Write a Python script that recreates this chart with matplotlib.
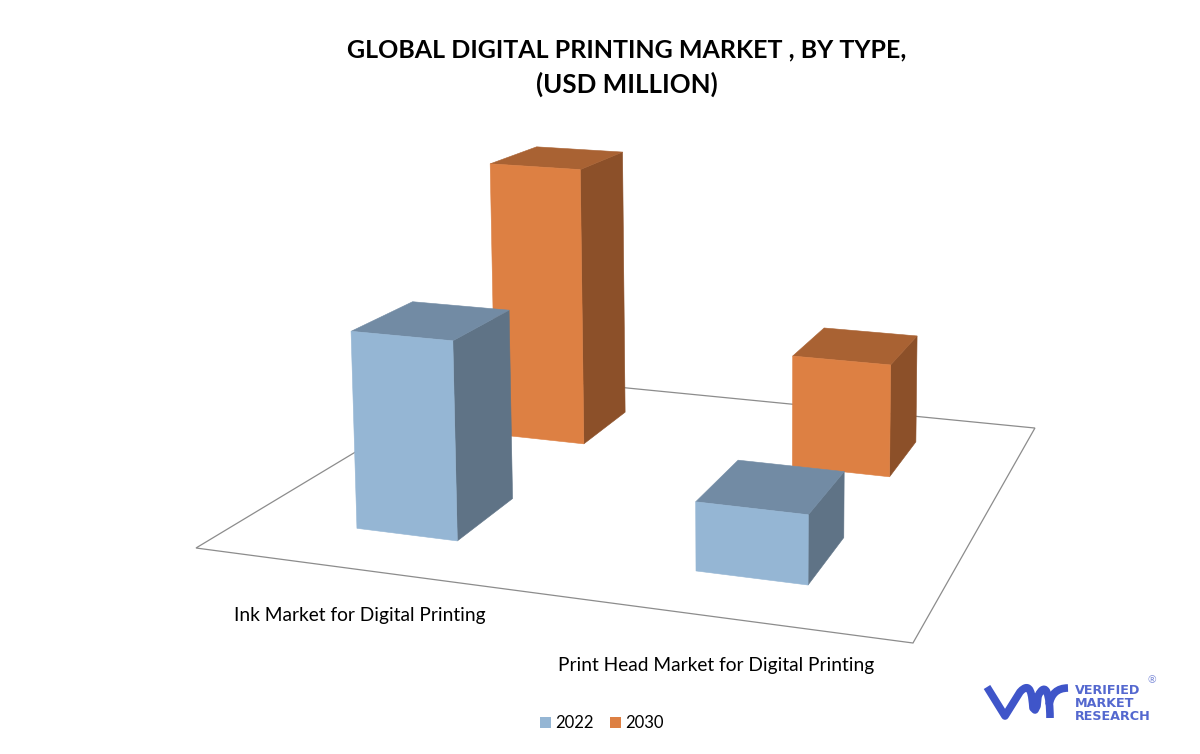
import matplotlib
matplotlib.use('Agg')
import matplotlib.pyplot as plt
import numpy as np
from matplotlib.patches import Polygon, PathPatch, Rectangle
from matplotlib.path import Path

plt.rcParams['font.family'] = ['Lato', 'DejaVu Sans']

# Values (no axis in the chart, so relative units)
categories = ['Ink Market for Digital Printing', 'Print Head Market for Digital Printing']
years = ['2022', '2030']
values_2022 = [2.08, 0.70]
values_2030 = [3.27, 1.29]

front_colors = {'2022': '#95B6D4', '2030': '#DD8043'}
top_colors = {'2022': '#728BA4', '2030': '#A96233'}
side_colors = {'2022': '#5F7386', '2030': '#8C5029'}

# Camera matrix: floor coordinates (u, v) in 0..1, height z -> image pixels
P = np.array([[618.0, 447.9, -5.43, 196.0],
              [25.3, -51.4, -100.0, 548.0],
              [-0.1084, 0.3277, -0.00714, 1.0]])


def project(u, v, z=0.0):
    x, y, w = P @ np.array([u, v, z, 1.0])
    return x / w, y / w


def draw_bar(ax, uc, vc, height, year, du=0.0775, dv=0.10):
    u0, u1 = uc - du, uc + du
    v0, v1 = vc - dv, vc + dv
    front = [project(u0, v0), project(u1, v0), project(u1, v0, height), project(u0, v0, height)]
    side = [project(u1, v0), project(u1, v1), project(u1, v1, height), project(u1, v0, height)]
    top = [project(u0, v0, height), project(u1, v0, height), project(u1, v1, height), project(u0, v1, height)]
    ax.add_patch(Polygon(side, closed=True, fc=side_colors[year], ec=side_colors[year], lw=0.4))
    ax.add_patch(Polygon(top, closed=True, fc=top_colors[year], ec=top_colors[year], lw=0.4))
    ax.add_patch(Polygon(front, closed=True, fc=front_colors[year], ec=front_colors[year], lw=0.4))


fig = plt.figure(figsize=(12, 7.54), dpi=100)
ax = fig.add_axes([0, 0, 1, 1])
ax.set_xlim(0, 1200)
ax.set_ylim(754, 0)
ax.axis('off')

# Floor of the 3D chart
floor = [project(0, 0), project(1, 0), project(1, 1), project(0, 1)]
ax.add_patch(Polygon(floor, closed=True, fc='white', ec='#8C8C8C', lw=0.9))

# Back row first so that the front row covers it
for i in range(len(categories)):
    uc = 0.247 + 0.504 * i
    draw_bar(ax, uc, 0.75, values_2030[i], '2030')
    draw_bar(ax, uc, 0.25, values_2022[i], '2022')

# Title
ax.text(627, 50, 'GLOBAL DIGITAL PRINTING MARKET , BY TYPE,', ha='center', va='center',
        fontsize=18, fontweight='bold', color='black')
ax.text(627, 84, '(USD MILLION)', ha='center', va='center',
        fontsize=18.6, fontweight='bold', color='black')

# Category labels
ax.text(234, 615, categories[0], ha='left', va='center', fontsize=13.8, color='black')
ax.text(558, 666, categories[1], ha='left', va='center', fontsize=13.8, color='black')

# Legend
ax.add_patch(Rectangle((540, 717), 11, 11, fc=front_colors['2022'], ec='none'))
ax.text(555, 722.5, years[0], ha='left', va='center', fontsize=12, color='black')
ax.add_patch(Rectangle((610, 717), 11, 11, fc=front_colors['2030'], ec='none'))
ax.text(625, 722.5, years[1], ha='left', va='center', fontsize=12, color='black')

# Logo
logo_blue = '#3F55C9'
logo_verts = [(987, 687), (1005, 716), (1020, 692),
              (1031, 680), (1032, 696), (1033, 708), (1035, 710),
              (1037, 706), (1038, 696),
              (1046, 680), (1050, 695), (1050, 718)]
logo_codes = [Path.MOVETO, Path.LINETO, Path.LINETO,
              Path.CURVE4, Path.CURVE4, Path.CURVE4, Path.LINETO,
              Path.LINETO, Path.LINETO,
              Path.CURVE4, Path.CURVE4, Path.CURVE4]
ax.add_patch(PathPatch(Path(logo_verts, logo_codes), fc='none', ec=logo_blue, lw=5.5,
                       capstyle='butt', joinstyle='round'))
ax.add_patch(PathPatch(Path([(1049, 705), (1052, 688), (1068, 688)],
                            [Path.MOVETO, Path.CURVE3, Path.CURVE3]),
                       fc='none', ec=logo_blue, lw=5.5, capstyle='butt'))
for label, y in zip(['VERIFIED', 'MARKET', 'RESEARCH'], [690.5, 703.5, 716.5]):
    ax.text(1075, y, label, ha='left', va='center', fontsize=9.2, fontweight='bold',
            family='DejaVu Sans', color='#5468CF')
ax.text(1152, 681, '®', ha='center', va='center', fontsize=7.5, color='#7C8BD8')

fig.savefig('out.png', dpi=100, facecolor='white')
